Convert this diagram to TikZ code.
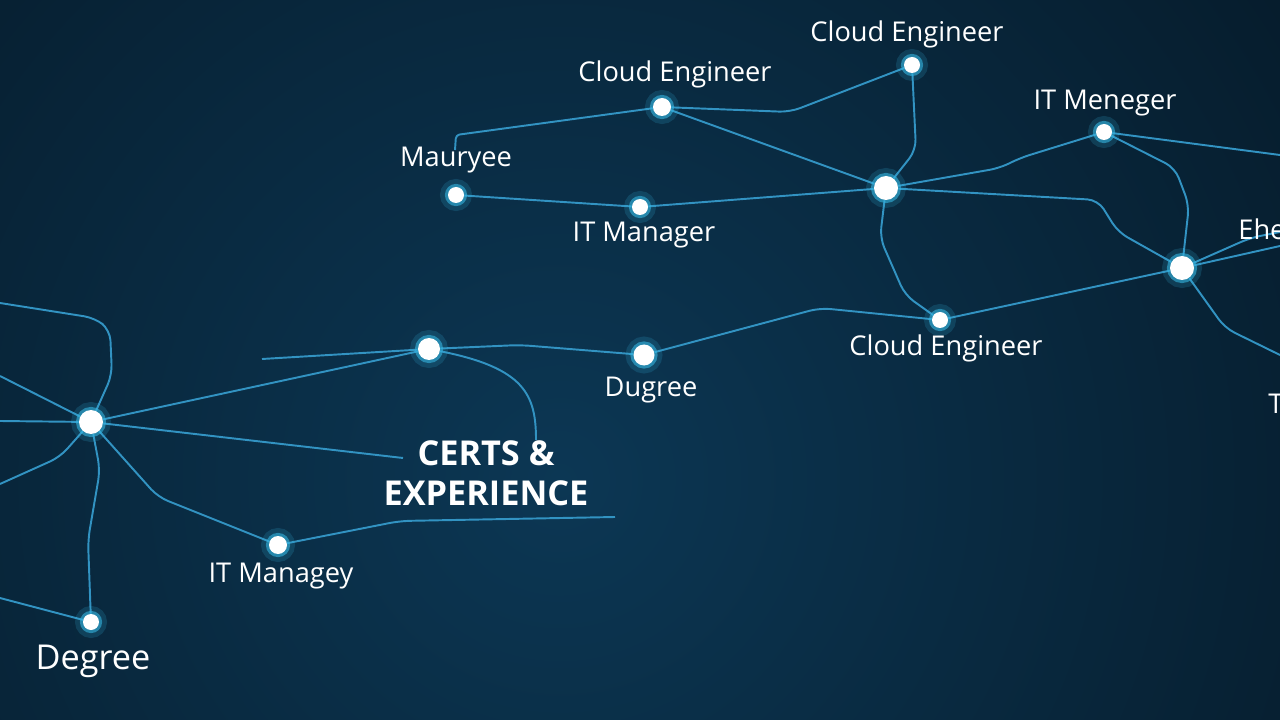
\documentclass[tikz,border=0pt]{standalone}
\usepackage{fontspec}
\setmainfont{Open Sans}
\usetikzlibrary{positioning}
\pgfdeclarelayer{bg}
\pgfdeclarelayer{edges}
\pgfsetlayers{bg,edges,main}
\definecolor{bgdark}{HTML}{041420}
\definecolor{bgmid}{HTML}{0C3754}
\definecolor{linkc}{HTML}{3293C2}
\definecolor{glowc}{HTML}{35B5E0}
\tikzset{
    link/.style={draw=linkc, line width=1.1pt, line join=round,
        preaction={draw=glowc, line width=3.5pt, draw opacity=.18}},
    dot/.style={circle, fill=white, inner sep=0pt, minimum size=#1,
        preaction={draw=glowc, line width=9pt, draw opacity=.18},
        preaction={draw=glowc, line width=3.5pt, draw opacity=.6}},
    dot/.default=3.2mm,
    lbl/.style={text=white, inner sep=0pt, font=\fontsize{15.5}{17}\selectfont}
}

\begin{document}
\begin{tikzpicture}[x=0.2mm, y=-0.2mm]
    \useasboundingbox (0,0) rectangle (1280,720);

    % background
    \begin{pgfonlayer}{bg}
        \fill[bgdark] (0,0) rectangle (1280,720);
        \begin{scope}
            \clip (0,0) rectangle (1280,720);
            \shade[inner color=bgmid, outer color=bgdark] (560,480) circle (1150);
        \end{scope}
    \end{pgfonlayer}

    % dots
    \node [dot=4.8mm] at (91,422)   (hubL) {};
    \node [dot]       at (91,622)   (degL) {};
    \node [dot=3.6mm] at (278,545)  (itmL) {};
    \node [dot=4.4mm] at (429,349)  (certs) {};
    \node [dot=4.2mm] at (644,355)  (dgr) {};
    \node [dot]       at (456,195)  (maur) {};
    \node [dot]       at (640,207)  (itmM) {};
    \node [dot=3.6mm] at (662,107)  (ce1) {};
    \node [dot]       at (912,65)   (ce2) {};
    \node [dot=4.8mm] at (886,188)  (hubR) {};
    \node [dot]       at (1104,132) (itmR) {};
    \node [dot]       at (940,320)  (ce3) {};
    \node [dot=4.8mm] at (1182,268) (hubE) {};

    % labels
    \node [lbl, font=\fontsize{19.5}{21}\selectfont] at (93,661) (degLl) {Degree};
    \node [lbl] at (281,576)  (itmLl) {IT Managey};
    \node [lbl] at (651,390)  (dgrl)  {Dugree};
    \node [lbl] at (456,160)  (maurl) {Mauryee};
    \node [lbl] at (644,235)  (itmMl) {IT Manager};
    \node [lbl] at (675,74)   (ce1l)  {Cloud Engineer};
    \node [lbl] at (907,34)   (ce2l)  {Cloud Engineer};
    \node [lbl] at (1105,103) (itmRl) {IT Meneger};
    \node [lbl] at (946,348)  (ce3l)  {Cloud Engineer};
    \node [lbl, anchor=west] at (1238,229) (ehel) {Ehe};
    \node [lbl, anchor=west] at (1268,404) (tl)   {T};
    \node [lbl, align=center, font=\fontsize{19.5}{23}\selectfont\bfseries]
        at (486,473) (certsl) {CERTS \&\\EXPERIENCE};

    % free ends
    \coordinate (eA) at (0,376);
    \coordinate (eB) at (0,421);
    \coordinate (eC) at (0,484);
    \coordinate (eD) at (0,303);
    \coordinate (eE) at (0,598);
    \coordinate (eF) at (262,359);
    \coordinate (eG) at (615,517);
    \coordinate (eH) at (1280,155);
    \coordinate (eI) at (1280,232);
    \coordinate (eJ) at (1280,246);
    \coordinate (eK) at (1280,355);
    \coordinate (eL) at (403,458);
    \coordinate (eM) at (455,150);

    % links
    \begin{pgfonlayer}{edges}
        \begin{scope}[link, rounded corners=6pt]
            \draw (hubL) -- (eA);
            \draw (hubL) -- (eB);
            \draw (hubL) -- (60,457) -- (eC);
            \draw (hubL) -- (112,375) -- (110,330) -- (95,318) -- (eD);
            \draw (hubL) -- (certs);
            \draw (hubL) -- (eL);
            \draw (hubL) -- (158,497) -- (itmL);
            \draw (hubL) -- (100,470) -- (88,540) -- (degL);
            \draw (degL) -- (eE);
            \draw (itmL) -- (400,521) -- (eG);
            \draw (eF) -- (certs);
            \draw (certs) -- (520,345) -- (dgr);
            \draw (certs) .. controls (525,368) and (536,395) .. (536,440);
            \draw (dgr) -- (820,308) -- (ce3);
            \draw (ce3) -- (hubE);
            \draw (ce3) -- (905,295) -- (880,238) -- (hubR);
            \draw (maur) -- (itmM) -- (hubR);
            \draw[rounded corners=2pt] (eM) -- (456,135) -- (ce1);
            \draw (ce1) -- (790,112) -- (ce2);
            \draw (ce1) -- (hubR);
            \draw (ce2) -- (916,150) -- (hubR);
            \draw (hubR) -- (1000,168) -- (1020,158) -- (itmR);
            \draw (hubR) -- (1098,200) -- (1118,232) -- (hubE);
            \draw (itmR) -- (eH);
            \draw (itmR) -- (1175,168) -- (1189,205) -- (hubE);
            \draw (hubE) -- (1250,238) -- (eI);
            \draw (hubE) -- (eJ);
            \draw (hubE) -- (1225,328) -- (eK);
        \end{scope}
    \end{pgfonlayer}
\end{tikzpicture}
\end{document}
